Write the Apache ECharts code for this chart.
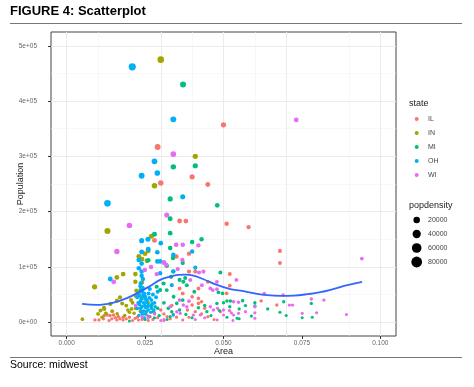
<!DOCTYPE html>
<html><head><meta charset="utf-8">
<script src="https://cdn.jsdelivr.net/npm/echarts@6/dist/echarts.min.js"></script>
<style>html,body{margin:0;padding:0;background:#fff}#c{width:474px;height:387px}</style>
</head><body><div id="c"></div>
<script>
const states = ['IL','IN','MI','OH','WI'];
const stateColors = ['#F8766D','#A3A500','#00BF7D','#00B0F6','#E76BF3'];
// [area, population, popdensity]
const IL = [[0.050,357000,7100],[0.029,317000,11000],[0.040,263000,6600],[0.030,252000,8400],[0.045,249000,5500],[0.036,183000,5100],[0.038,183000,4800],[0.051,178000,3500],[0.058,172000,3000],[0.028,148000,5300],[0.035,119000,3400],[0.039,124000,3200],[0.068,129000,1900],[0.068,107000,1600],[0.039,91500,2300],[0.052,87000,1700],[0.052,66000,1300],[0.051,52000,1000],[0.041,91500,2200],[0.045,73000,1600],[0.042,61000,1500],[0.036,61000,1700],[0.037,52000,1400],[0.040,46000,1100],[0.042,43000,1000],[0.043,37000,900],[0.042,34000,800],[0.040,31000,800],[0.044,25000,600],[0.041,19000,500],[0.030,22000,700],[0.028,16000,600],[0.031,15000,500],[0.035,9000,300],[0.0255,13000,500],[0.0266,10000,400],[0.062,38500,600],[0.067,31000,500],[0.049,19000,400],[0.012,12000,1000],[0.0138,12000,900],[0.0144,6000,400],[0.0103,4000,400],[0.009,4000,400],[0.0117,6000,500],[0.018,9000,500],[0.018,4000,200],[0.017,6000,350],[0.019,6000,300],[0.020,9000,450],[0.0218,7000,300],[0.0229,4000,200],[0.0129,13000,1000],[0.0149,13000,900],[0.024,5000,200],[0.026,3000,100],[0.031,3000,100],[0.033,6000,200],[0.037,4000,100],[0.045,10000,200],[0.047,5000,100],[0.0135,3000,220],[0.0155,8000,500],[0.016,4000,250],[0.0165,10000,600],[0.021,3000,140],[0.0225,9000,400],[0.0275,5000,180],[0.029,8000,280],[0.032,10000,310],[0.034,14000,410],[0.039,9000,230],[0.043,15000,350],[0.0385,22000,570],[0.0335,30000,900]];
const IN = [[0.030,475000,15900],[0.041,300000,7300],[0.028,247000,8800],[0.013,165000,12700],[0.027,155500,5800],[0.026,129000,5000],[0.023,119000,5200],[0.024,114000,4700],[0.025,124000,5000],[0.0256,111000,4300],[0.0089,64000,7200],[0.016,81000,5000],[0.018,87000,4800],[0.0219,87000,4000],[0.0219,73000,3300],[0.024,72000,3000],[0.0222,57000,2600],[0.017,45000,2600],[0.016,39000,2400],[0.0177,34000,1900],[0.012,24000,2000],[0.0108,21000,1900],[0.010,15000,1500],[0.0113,9000,800],[0.0161,15000,900],[0.005,5400,1100],[0.0207,24000,1200],[0.0215,16000,700],[0.0139,33000,2400],[0.0119,26000,2200],[0.019,30000,1600],[0.021,35000,1700],[0.022,25000,1100],[0.0235,20000,850],[0.020,18000,900],[0.024,45000,1900],[0.026,35000,1300],[0.0185,12000,650],[0.0195,22000,1100],[0.0205,40000,1950],[0.022,48000,2200],[0.0145,20000,1400],[0.0125,16000,1300]];
const MI = [[0.0371,430000,11600],[0.034,281000,8300],[0.041,283000,6900],[0.033,223000,6700],[0.048,211500,4400],[0.033,187000,5700],[0.033,161000,4900],[0.028,159000,5700],[0.040,145000,3600],[0.043,150000,3500],[0.033,134000,4000],[0.026,112000,4300],[0.0319,102000,3200],[0.034,92000,2700],[0.036,76500,2100],[0.049,90000,1800],[0.0339,116000,3400],[0.037,107000,2900],[0.0333,82000,2500],[0.0378,80000,2100],[0.0372,73000,2000],[0.0383,67000,1700],[0.0309,70000,2300],[0.0287,64000,2200],[0.0298,58000,1900],[0.0319,58000,1800],[0.0407,55000,1400],[0.037,40000,1100],[0.0341,46000,1300],[0.0351,34000,1000],[0.0479,34000,700],[0.0447,19000,400],[0.0324,25000,800],[0.0335,19000,600],[0.033,10000,300],[0.0277,19000,700],[0.0235,58000,2500],[0.020,2000,100],[0.0497,52000,1000],[0.0484,54000,1100],[0.050,35000,700],[0.0511,38500,750],[0.0522,38500,740],[0.0561,39000,700],[0.0487,21000,430],[0.0511,9000,180],[0.0543,7000,130],[0.055,6000,110],[0.060,35000,580],[0.060,29500,490],[0.0589,11000,190],[0.0641,24000,370],[0.0692,37000,530],[0.068,18000,260],[0.070,12000,170],[0.0751,8000,110],[0.078,34000,440],[0.0783,9000,115],[0.027,30000,1100],[0.029,25000,860],[0.031,35000,1100],[0.0295,12000,400],[0.032,5000,160],[0.025,5000,200],[0.028,8000,290],[0.036,22000,610],[0.038,14000,370],[0.040,8000,200],[0.042,26000,620],[0.044,30000,680],[0.046,12000,260],[0.052,28000,540],[0.055,24000,440],[0.057,30000,530]];
const OH = [[0.0209,462000,22100],[0.034,367000,10800],[0.028,291000,10400],[0.0239,265000,11100],[0.0289,270000,9300],[0.013,215000,16500],[0.037,227000,6100],[0.0239,147500,6200],[0.0259,150000,5800],[0.030,143000,4800],[0.026,132000,5100],[0.0239,127000,5300],[0.0289,126500,4400],[0.040,128000,3200],[0.023,112600,4900],[0.0289,110000,3800],[0.031,108000,3500],[0.0239,106000,4400],[0.0239,91500,3800],[0.023,97600,4200],[0.041,98700,2400],[0.0139,78000,5600],[0.0239,84000,3500],[0.0243,78000,3200],[0.034,122000,3600],[0.0298,110000,3700],[0.0298,88600,3000],[0.034,91500,2700],[0.0335,67000,2000],[0.034,13000,400],[0.0235,65000,2800],[0.024,55000,2300],[0.0245,48000,2000],[0.025,42000,1700],[0.0255,36000,1400],[0.026,30000,1150],[0.0235,38000,1600],[0.024,28000,1200],[0.0245,20000,800],[0.025,15000,600],[0.026,22000,850],[0.027,40000,1500],[0.027,25000,930],[0.0275,50000,1800],[0.028,35000,1250],[0.0225,45000,2000],[0.0225,25000,1100],[0.023,12000,520],[0.0248,8000,320],[0.0262,10000,380],[0.0285,45000,1600],[0.029,55000,1900],[0.0265,60000,2300],[0.0232,32000,1400],[0.0252,26000,1000],[0.0245,35000,1400],[0.0268,18000,670],[0.0238,18000,760],[0.0228,52000,2300],[0.0233,48000,2100],[0.0238,42000,1800],[0.0243,60000,2500],[0.0247,52000,2100],[0.0251,46000,1800],[0.0256,40000,1600],[0.0228,35000,1500],[0.0236,25000,1060],[0.0241,14000,580],[0.0254,19000,750],[0.0258,28000,1100],[0.0264,44000,1670],[0.0272,33000,1200],[0.0278,22000,800],[0.0236,70000,3000],[0.0242,62000,2600],[0.0249,30000,1200],[0.0261,52000,2000],[0.0282,28000,1000]];
const WI = [[0.0732,366000,5000],[0.034,304000,8900],[0.0319,194000,6100],[0.020,175000,8700],[0.0349,140000,4000],[0.037,140000,3800],[0.042,139000,3300],[0.016,128000,8000],[0.0369,112600,3000],[0.0249,94500,3800],[0.0269,100000,3700],[0.0436,91500,2100],[0.015,73000,4900],[0.0309,108000,3500],[0.0317,104000,3300],[0.0354,96000,2700],[0.0287,87000,3000],[0.0422,90000,2100],[0.0394,76500,1900],[0.0431,67000,1600],[0.0458,61000,1300],[0.0466,58000,1250],[0.0372,31000,830],[0.0383,28000,730],[0.0458,28000,610],[0.0468,22000,470],[0.0404,13000,320],[0.0426,13000,300],[0.0351,19000,540],[0.0362,16000,440],[0.030,3000,100],[0.0541,76500,1400],[0.0479,73000,1500],[0.0479,60000,1250],[0.0532,37000,700],[0.0548,36000,660],[0.0481,25000,520],[0.050,22000,440],[0.0519,21000,400],[0.0525,17000,320],[0.0532,13000,240],[0.0548,16000,290],[0.057,19000,330],[0.060,28000,470],[0.060,17000,280],[0.060,7000,120],[0.063,52000,830],[0.069,49000,710],[0.071,31000,440],[0.072,31000,430],[0.0751,16000,210],[0.078,42000,540],[0.0797,17000,210],[0.082,40000,490],[0.0892,14000,160],[0.0941,115000,1200],[0.050,13000,260],[0.022,30000,1400],[0.024,10000,420],[0.026,8000,300],[0.028,15000,540],[0.031,5000,160],[0.033,28000,850],[0.036,40000,1100],[0.039,38000,970],[0.041,5000,120],[0.044,8000,180],[0.048,4000,80],[0.053,3000,60]];
const smoothArea = [0.0049,0.0096,0.0149,0.0192,0.0234,0.0266,0.0298,0.0330,0.0356,0.0381,0.0404,0.0436,0.0479,0.0522,0.0554,0.0596,0.0639,0.0682,0.0724,0.0767,0.0809,0.0852,0.0895,0.0942];
const smoothPop = [33100,31300,35400,43400,55300,65600,76500,82400,85500,86100,84300,77700,67400,59700,57100,52400,48800,47600,48100,50600,54200,60200,66900,72900];
const xTicks = [0,0.025,0.05,0.075,0.1];
const xMinor = [0.0125,0.0375,0.0625,0.0875];
const yTicks = [0,100000,200000,300000,400000,500000];
const yMinor = [50000,150000,250000,350000,450000];
const sizeLegend = [20000,40000,60000,80000];
const densityMax = 88018;

const FONT = 'Liberation Sans, Arial, sans-serif';
function sz(d){ return 1.8*(1+5*Math.sqrt(d/densityMax))+0.9; }
const stateData = [IL, IN, MI, OH, WI];

const gridLines = [];
xMinor.forEach(v=>gridLines.push({xAxis:v, lineStyle:{color:'#F3F3F3', width:0.6, type:'solid'}}));
yMinor.forEach(v=>gridLines.push({yAxis:v, lineStyle:{color:'#F3F3F3', width:0.6, type:'solid'}}));
xTicks.forEach(v=>gridLines.push({xAxis:v, lineStyle:{color:'#EBEBEB', width:1, type:'solid'}}));
yTicks.forEach(v=>gridLines.push({yAxis:v, lineStyle:{color:'#EBEBEB', width:1, type:'solid'}}));

const series = [{
  type:'scatter', data:[], silent:true, z:1,
  markLine:{silent:true, symbol:['none','none'], label:{show:false}, animation:false, z:1,
    emphasis:{disabled:true}, data:gridLines}
}];
states.forEach((s,i)=>{
  series.push({type:'scatter', name:s, data:stateData[i], z:2,
    symbolSize:v=>sz(v[2]), itemStyle:{color:stateColors[i], opacity:1}, emphasis:{disabled:true}});
});
series.push({type:'line', name:'loess', data:smoothArea.map((a,i)=>[a,smoothPop[i]]), z:3,
  showSymbol:false, smooth:0.4, lineStyle:{color:'#3366FF', width:1.8}, silent:true});

const graphics = [
  {type:'line', shape:{x1:10,y1:23.5,x2:462,y2:23.5}, style:{stroke:'#777', lineWidth:1}},
  {type:'line', shape:{x1:10,y1:357.5,x2:462,y2:357.5}, style:{stroke:'#777', lineWidth:1}},
  {type:'text', x:10, y:365, style:{text:'Source: midwest', fontSize:10.5, fontFamily:FONT, fill:'#000', textVerticalAlign:'middle'}},
  {type:'text', x:409, y:104, style:{text:'state', fontSize:9, fontFamily:FONT, fill:'#222', textVerticalAlign:'middle'}},
  {type:'text', x:409, y:206, style:{text:'popdensity', fontSize:9, fontFamily:FONT, fill:'#222', textVerticalAlign:'middle'}}
];
states.forEach((s,i)=>{
  graphics.push({type:'circle', shape:{cx:416.7, cy:119+14*i, r:2}, style:{fill:stateColors[i]}});
  graphics.push({type:'text', x:428, y:119+14*i, style:{text:s, fontSize:7, fontFamily:FONT, fill:'#444', textVerticalAlign:'middle'}});
});
sizeLegend.forEach((d,i)=>{
  graphics.push({type:'circle', shape:{cx:416.7, cy:220+14*i, r:(sz(d)-0.5)/2}, style:{fill:'#000'}});
  graphics.push({type:'text', x:428, y:220+14*i, style:{text:String(d), fontSize:7, fontFamily:FONT, fill:'#444', textVerticalAlign:'middle'}});
});

const chart = echarts.init(document.getElementById('c'), null, {renderer:'canvas'});
chart.setOption({
  animation:false,
  backgroundColor:'#fff',
  textStyle:{fontFamily:FONT},
  title:{text:'FIGURE 4: Scatterplot', left:10, top:5, padding:0, textStyle:{fontSize:13, fontWeight:'bold', color:'#000', fontFamily:FONT}},
  grid:{left:51, right:78, top:32, bottom:51, show:true, borderColor:'#444', borderWidth:1, backgroundColor:'transparent', containLabel:false, outerBoundsMode:'none'},
  xAxis:{type:'value', min:-0.005, max:0.105, splitLine:{show:false}, axisLine:{show:false, onZero:false},
    axisTick:{show:true, customValues:xTicks, length:3, lineStyle:{color:'#333'}},
    axisLabel:{customValues:xTicks, formatter:v=>v.toFixed(3), fontSize:6.5, color:'#666', margin:4},
    name:'Area', nameLocation:'middle', nameGap:11.5, nameMoveOverlap:false, nameTextStyle:{fontSize:9, color:'#222'}},
  yAxis:{type:'value', min:-25000, max:525000, splitLine:{show:false}, axisLine:{show:false, onZero:false},
    axisTick:{show:true, customValues:yTicks, length:3, lineStyle:{color:'#333'}},
    axisLabel:{customValues:yTicks, formatter:v=>v===0?'0e+00':(Math.round(v/1e5))+'e+05', fontSize:6.5, color:'#666', margin:14},
    name:'Population', nameLocation:'middle', nameGap:26, nameMoveOverlap:false, nameRotate:90, nameTextStyle:{fontSize:9, color:'#222'}},
  series:series,
  graphic:graphics
});
</script></body></html>
